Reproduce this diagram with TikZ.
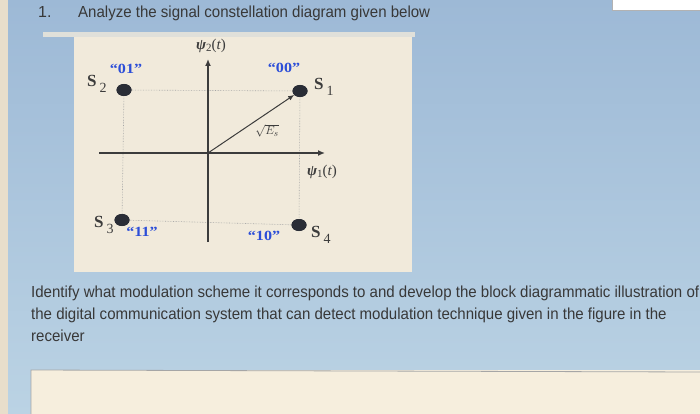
\documentclass[tikz,border=0pt]{standalone}
\usepackage{fontspec}
\setmainfont{Liberation Serif}
\setsansfont{Liberation Sans}
\usetikzlibrary{arrows.meta,shapes.geometric}
\definecolor{bgtop}{HTML}{9DB9D6}
\definecolor{bgbot}{HTML}{BBD3E4}
\definecolor{panel}{HTML}{F1EADB}
\definecolor{strip}{HTML}{E8DECB}
\definecolor{txt}{HTML}{383838}
\definecolor{lblblue}{HTML}{2C4ED8}
\definecolor{axis}{HTML}{3C3C3C}
\definecolor{dot}{HTML}{2A2D36}
\definecolor{answer}{HTML}{F6EEDD}
\tikzset{
  qtext/.style={font=\sffamily\fontsize{16}{18}\selectfont, text=txt, anchor=base west, inner sep=0pt},
  bits/.style={font=\rmfamily\bfseries\fontsize{14}{14}\selectfont, text=lblblue, inner sep=0pt},
  slabel/.style={font=\rmfamily\fontsize{15}{15}\selectfont, text=axis, inner sep=0pt},
  sname/.style={font=\rmfamily\fontsize{17}{17}\selectfont, text=axis, inner sep=0pt, anchor=base west},
  pt/.style={ellipse, fill=dot, minimum width=15pt, minimum height=12pt, inner sep=0pt},
  gridline/.style={draw=gray!70, densely dotted, line width=0.6pt},
  ax/.style={draw=axis, line width=1.6pt, -{Latex[length=7pt,width=6pt]}},
}
\newcommand{\snm}[1]{{\bfseries S}\hspace{3pt}\raisebox{-6pt}{\fontsize{14}{14}\selectfont #1}}
\newcommand{\bitlbl}[1]{\scalebox{1.15}[1]{#1}}
\newcommand{\psilbl}[1]{{\bfseries\itshape ψ}\raisebox{-2pt}{\fontsize{11}{11}\selectfont #1}({\itshape t})}
\begin{document}
\begin{tikzpicture}[x=1pt,y=-1pt]
\useasboundingbox (0,0) rectangle (700,414);
\shade[top color=bgtop, bottom color=bgbot] (0,0) rectangle (700,414);
\fill[strip] (0,0) rectangle (8,414);
\fill[white] (612,0) rectangle (700,10);
\draw[gray!60] (612,0) -- (612,10) -- (700,10);
% question line
\node[qtext] (num) at (38,18) {1.};
\node[qtext] (q) at (78,18) {\scalebox{0.94}[1]{Analyze the signal constellation diagram given below}};
% panel
\fill[panel!80!bgtop] (43,32) rectangle (415,37);
\fill[panel] (74,37) rectangle (412,272);
% constellation
\coordinate (o) at (208,153);
\coordinate (xl) at (99,153);
\coordinate (xr) at (325,153);
\coordinate (yb) at (208,242);
\coordinate (yt) at (208,59);
\node[pt] (s1) at (300,91) {};
\node[pt] (s2) at (124,90) {};
\node[pt] (s3) at (122,220) {};
\node[pt] (s4) at (299,225) {};
\draw[gridline] (s2.center) -- (s1.center);
\draw[gridline] (s2.center) -- (s3.center);
\draw[gridline] (s1.center) -- (s4.center);
\draw[gridline] (s3.center) -- (s4.center);
\draw[ax] (xl) -- (xr);
\draw[ax] (yb) -- (yt);
\draw[draw=axis, line width=1pt, -{Latex[length=6pt,width=5pt]}, shorten >=7pt] (o) -- (s1.center);
\node[pt] at (s1) {};
\node[pt] at (s2) {};
\node[pt] at (s3) {};
\node[pt] at (s4) {};
% labels
\node[slabel] (psi2) at (211,46) {\psilbl{2}};
\node[slabel] (psi1) at (322,172) {\psilbl{1}};
\node[slabel, font=\rmfamily\fontsize{13}{13}\selectfont] (es) at (267,131) {$\sqrt{E_s}$};
\node[bits] (b01) at (126,69) {\bitlbl{“01”}};
\node[bits] (b00) at (284,68) {\bitlbl{“00”}};
\node[bits] (b11) at (142,232) {\bitlbl{“11”}};
\node[bits] (b10) at (264,236) {\bitlbl{“10”}};
\node[sname] (l2) at (87,87) {\snm{2}};
\node[sname] (l1) at (314,90) {\snm{1}};
\node[sname] (l3) at (94,227) {\snm{3}};
\node[sname] (l4) at (311,237) {\snm{4}};
% paragraph
\node[qtext] (p1) at (31,297) {\scalebox{0.94}[1]{Identify what modulation scheme it corresponds to and develop the block diagrammatic illustration of}};
\node[qtext] (p2) at (31,319) {\scalebox{0.94}[1]{the digital communication system that can detect modulation technique given in the figure in the}};
\node[qtext] (p3) at (31,341) {\scalebox{0.94}[1]{receiver}};
% answer box
\fill[answer] (31,370) rectangle (700,414);
\draw[gray!70, line width=0.8pt] (31,414) -- (31,370) -- (700,372);
\end{tikzpicture}
\end{document}
